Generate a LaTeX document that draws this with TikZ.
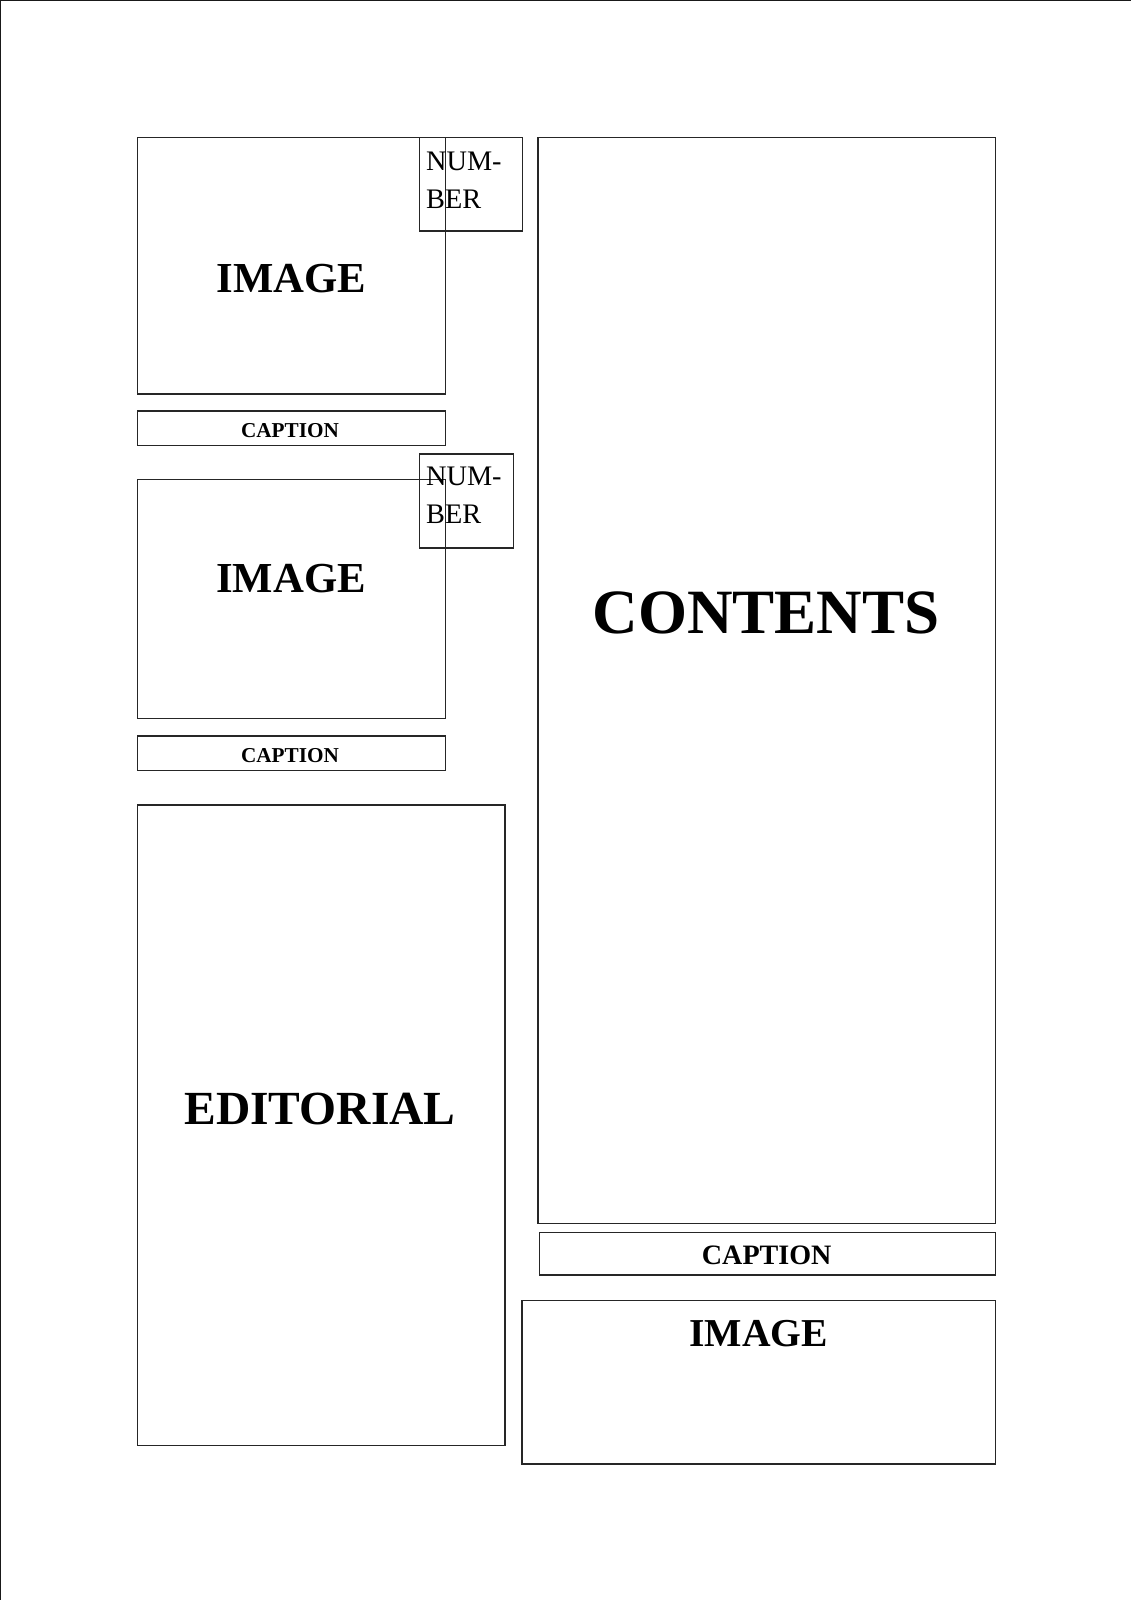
\documentclass[tikz,border=0pt]{standalone}
\usepackage{fontspec}
\setmainfont{Liberation Serif}
\begin{document}
\begin{tikzpicture}[x=1bp,y=-1bp,
  box/.style={draw=black!85,line width=1.2bp},
  lbl/.style={inner sep=0pt,anchor=base},
  big/.style={lbl,font=\bfseries\fontsize{#1}{#1}\selectfont},
  numtxt/.style={inner sep=0pt,anchor=base west,font=\fontsize{28.4}{38.3}\selectfont}]
\useasboundingbox (0,0) rectangle (1131,1600);
% page edges
\coordinate (pTL) at (0,0);
\coordinate (pTR) at (1131,0);
\coordinate (pBL) at (0,1600);
\draw[line width=2bp,black!90] (pBL) -- (pTL) -- (pTR);
% boxes
\draw[box] (137.3,137.3) rectangle (445.3,394) coordinate (img1);
\draw[box] (419.3,137.3) rectangle (522.3,231) coordinate (num1);
\draw[box] (137.3,411) rectangle (445.3,445.3) coordinate (cap1);
\draw[box] (137.3,479.7) rectangle (445.3,718.7) coordinate (img2);
\draw[box] (419.3,454) rectangle (513.7,548) coordinate (num2);
\draw[box] (137.3,736) rectangle (445.3,770.3) coordinate (cap2);
\draw[box] (137.3,805) rectangle (505,1445.7) coordinate (edit);
\draw[box] (538,137.3) rectangle (995.7,1223.3) coordinate (cont);
\draw[box] (539.3,1232.3) rectangle (995.7,1275) coordinate (cap3);
\draw[box] (522,1300.7) rectangle (995.7,1464) coordinate (img3);
% labels
\node[big=42.9] (timg1) at (291.3,292.7) {IMAGE};
\node[numtxt] (tnum1) at (426,170) {\vtop{\hbox{NUM-}\hbox{BER}}};
\node[big=21.3] (tcap1) at (290,437.7) {CAPTION};
\node[big=42.9] (timg2) at (291,592.3) {IMAGE};
\node[numtxt] (tnum2) at (426,485.7) {\vtop{\hbox{NUM-}\hbox{BER}}};
\node[big=21.3] (tcap2) at (290,762.7) {CAPTION};
\node[big=47.7] (tedit) at (320,1124.3) {EDITORIAL};
\node[big=63.3] (tcont) at (766,633.3) {CONTENTS};
\node[big=28.2] (tcap3) at (766.7,1264.3) {CAPTION};
\node[big=39.7] (timg3) at (758.8,1346.7) {IMAGE};
\end{tikzpicture}
\end{document}
